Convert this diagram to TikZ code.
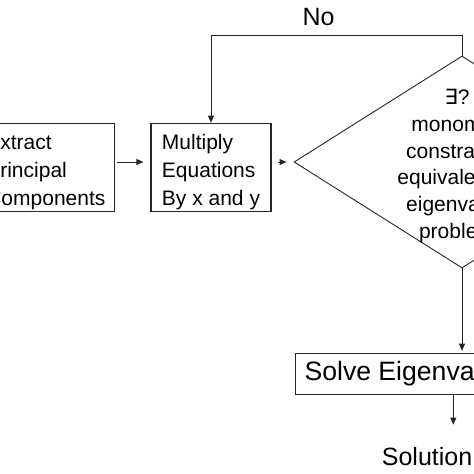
\documentclass[tikz,border=0pt]{standalone}
\usepackage{fontspec}
\setmainfont{Liberation Sans}
\newfontfamily\symfont{DejaVu Sans}
\usetikzlibrary{shapes.geometric,arrows.meta}

\tikzset{
  flow/.style={
    box/.style={
        draw=black!85,
        line width=1.2pt,
        align=left,
        inner xsep=9pt,
        inner ysep=0pt,
        minimum height=88.4pt,
        font=\fontsize{21}{27.7}\selectfont,
    },
    decision/.style={
        draw=black!85,
        shape=diamond,
        line width=0.9pt,
        minimum width=336pt,
        minimum height=212pt,
        inner sep=0pt,
    },
    link/.style={draw=black!85,line width=0.9pt,-{Triangle[length=7pt,width=6pt]}},
  }
}
\newcommand{\lift}{\rule{0pt}{24pt}}

\begin{document}
\begin{tikzpicture}[flow, x=1pt, y=-1pt]
            \tikzstyle{flowtext}=[inner sep=0pt,font=\fontsize{25}{25}\selectfont]
            \useasboundingbox (0,0) rectangle (474,474);
            \clip (0,0) rectangle (474,474);

            \node[box, anchor=east] (F_1) at (115,167.5) {\lift Extract\\Principal\\Components};
            \node[box, minimum width=120pt] (F_2) at (211,167.5) {\lift Multiply\\Equations\\By x and y};
            \node[decision] (F_3) at (462,162) {};
            \node[align=center, font=\fontsize{21}{26.8}\selectfont] (F_4) at (457,166)
                {{\symfont ∃}?\\monomial\\constraints\\equivalent to\\eigenvalue\\problem};
            \node[box, anchor=west, minimum height=41pt, font=\fontsize{26.6}{28}\selectfont] (F_5) at (295,373.8) {Solve Eigenvalue Problem};
            \node[flowtext, anchor=base west] (F_6) at (381.7,465) {Solution};
            \node[flowtext] (F_7) at (318.5,16.7) {No};
            \coordinate (C_1) at (462,35);
            \coordinate (C_2) at (453.3,394.3);

            \draw[link, shorten <=2pt, shorten >=7pt] (F_1.east |- F_3.west) -- (F_2.west |- F_3.west);
            \draw[link, shorten <=6pt, shorten >=7pt] (F_2.east |- F_3.west) -- (F_3.west);
            \draw[link] (F_3.north) -- (C_1) -| (F_2.north);
            \draw[link, shorten >=2pt] (F_3.south) -- (F_3.south |- F_5.north);
            \draw[link, shorten >=22pt] (C_2) -- (C_2 |- F_6.north);
        \end{tikzpicture}
\end{document}
